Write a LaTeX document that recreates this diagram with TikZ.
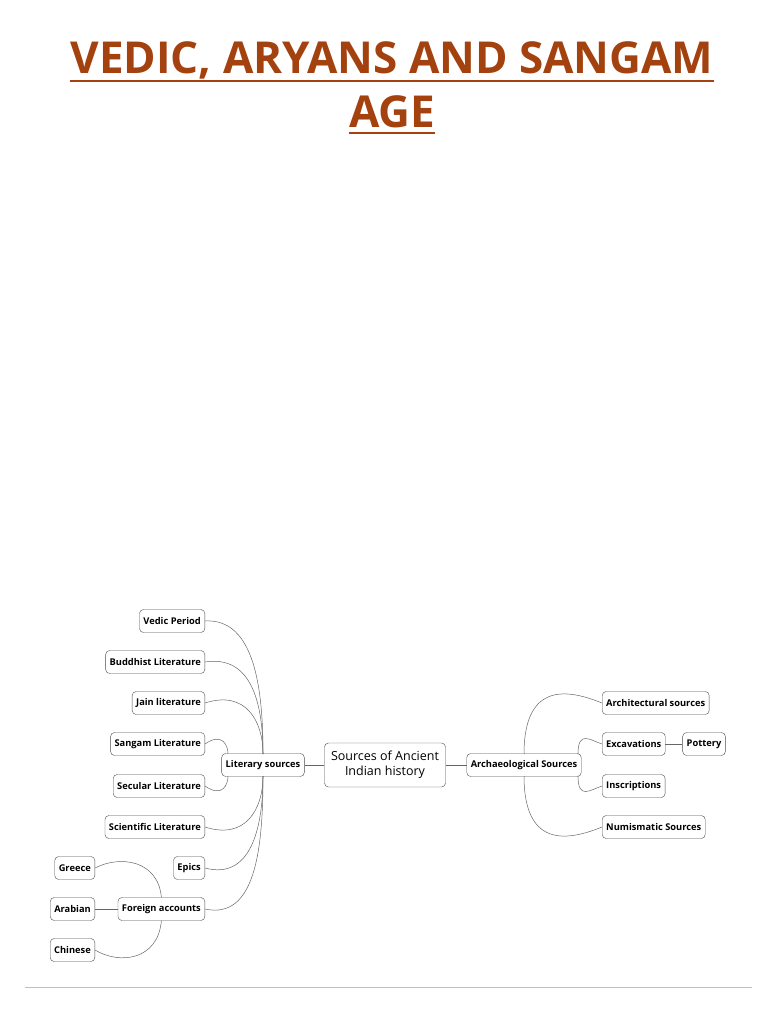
\documentclass[tikz,border=0pt]{standalone}
\usepackage{fontspec}
\setmainfont{Open Sans}
\begin{document}
\begin{tikzpicture}[x=1pt,y=-1pt,
  leaf/.style={draw=black!70,rounded corners=4pt,fill=white,font=\bfseries\fontsize{9.3}{11}\selectfont,inner xsep=4pt,minimum height=23pt},
  conn/.style={draw=black!60,line width=0.5pt},
  ttl/.style={text=tbrown,font=\bfseries\fontsize{44}{50}\selectfont,inner sep=0pt}]
\useasboundingbox (0,0) rectangle (768,1024);
\definecolor{tbrown}{HTML}{A3410F}
\node[ttl] (t1) at (392,60) {VEDIC, ARYANS AND SANGAM};
\node[ttl] (t2) at (392,112) {AGE};
\draw[tbrown,line width=1.5pt] (t1.west |- 0,81) -- (t1.east |- 0,81);
\draw[tbrown,line width=1.5pt] (t2.west |- 0,133) -- (t2.east |- 0,133);
\draw[black!25,line width=0.8pt] (25,987) -- (752,987);

\node[leaf,font=\fontsize{12.5}{15}\selectfont,align=center,minimum width=121pt,minimum height=44pt,inner xsep=2pt] (c) at (385,765) {Sources of Ancient\\Indian history};
\node[leaf] (lit) at (263,765) {Literary sources};
\node[leaf] (arc) at (524,765) {Archaeological Sources};
\node[leaf,anchor=east] (v) at (205,621) {Vedic Period};
\node[leaf,anchor=east] (b) at (205,662) {Buddhist Literature};
\node[leaf,anchor=east] (j) at (205,703) {Jain literature};
\node[leaf,anchor=east] (s) at (205,744) {Sangam Literature};
\node[leaf,anchor=east] (se) at (205,786) {Secular Literature};
\node[leaf,anchor=east] (sc) at (205,827) {Scientific Literature};
\node[leaf,anchor=east] (e) at (205,868) {Epics};
\node[leaf,anchor=east] (f) at (205,909) {Foreign accounts};
\node[leaf,anchor=east] (g) at (95,868) {Greece};
\node[leaf,anchor=east] (a) at (95,909) {Arabian};
\node[leaf,anchor=east] (ch) at (95,950) {Chinese};
\node[leaf,anchor=west] (ar) at (602,703) {Architectural sources};
\node[leaf,anchor=west] (ex) at (602,744) {Excavations};
\node[leaf,anchor=west] (in) at (602,786) {Inscriptions};
\node[leaf,anchor=west] (nu) at (602,827) {Numismatic Sources};
\node[leaf,anchor=west] (p) at ([xshift=17pt]ex.east) {Pottery};

\draw[conn] (c.west) -- (lit.east);
\draw[conn] (c.east) -- (arc.west);
\draw[conn] (ex.east) -- (p.west);
\draw[conn] (a.east) -- (f.west);
\coordinate (lt) at (263,754);
\coordinate (lb) at (263,776);
\draw[conn] (v.east) .. controls (255,618) and (263,690) .. (lt);
\draw[conn] (b.east) .. controls (250,655) and (263,700) .. (lt);
\draw[conn] (j.east) .. controls (245,690) and (263,720) .. (lt);
\draw[conn] (s.east) .. controls (222,732) and (228,745) .. (228,754);
\draw[conn] (se.east) .. controls (222,798) and (228,785) .. (228,776);
\draw[conn] (sc.east) .. controls (245,840) and (263,810) .. (lb);
\draw[conn] (e.east) .. controls (250,880) and (263,830) .. (lb);
\draw[conn] (f.east) .. controls (255,920) and (263,850) .. (lb);
\draw[conn] (g.east) .. controls (120,855) and (158,860) .. (f.north);
\draw[conn] (ch.east) .. controls (120,965) and (158,960) .. (f.south);
\coordinate (at) at (524,754);
\coordinate (ab) at (524,776);
\draw[conn] (ar.west) .. controls (570,690) and (524,680) .. (at);
\draw[conn] (nu.west) .. controls (570,840) and (524,850) .. (ab);
\draw[conn] (ex.west) .. controls (590,740) and (578,730) .. (578,754);
\draw[conn] (in.west) .. controls (590,790) and (578,800) .. (578,776);
\end{tikzpicture}
\end{document}
